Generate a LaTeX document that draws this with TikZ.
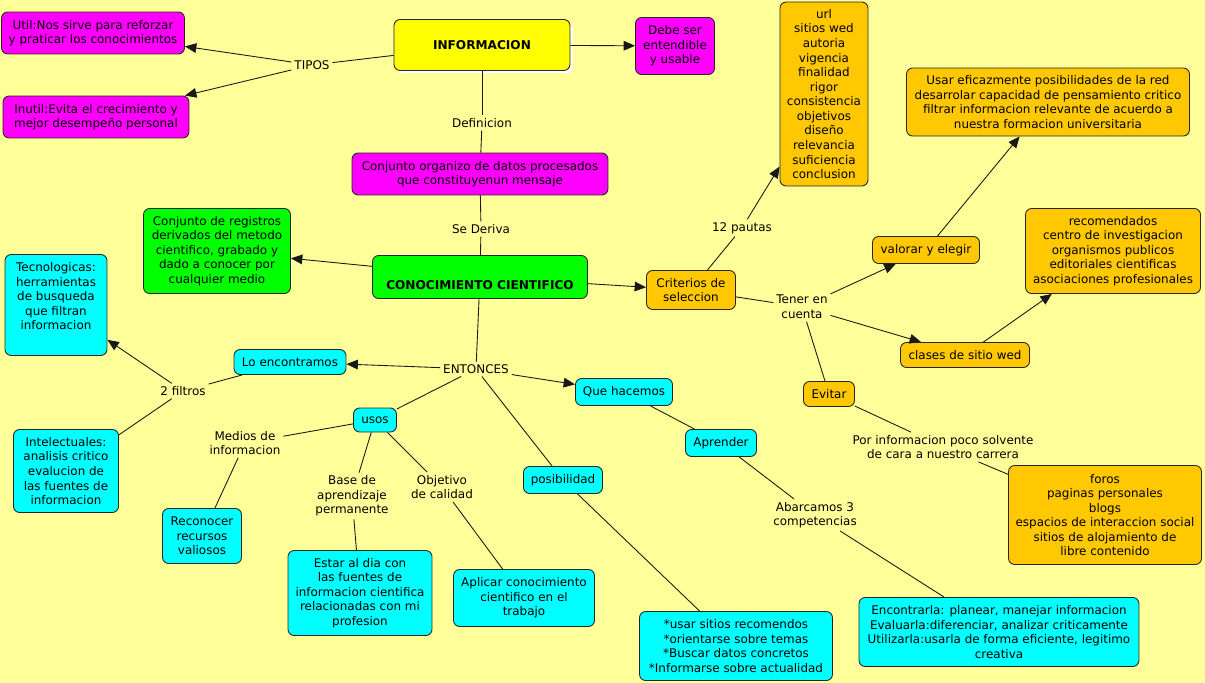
\documentclass[tikz,border=0pt]{standalone}
\usepackage{fontspec}
\setmainfont{DejaVu Sans}
\usetikzlibrary{arrows.meta,shadows}
\definecolor{fondo}{HTML}{FFFF99}
\definecolor{camarillo}{HTML}{FFFF00}
\definecolor{cmagenta}{HTML}{FF00FF}
\definecolor{cverde}{HTML}{00FF00}
\definecolor{ccian}{HTML}{00FFFF}
\definecolor{cnaranja}{HTML}{FFC800}
\begin{document}
\begin{tikzpicture}[x=0.02cm, y=-0.02cm,
        concepto/.style={draw=black!85, line width=0.5pt, rounded corners=3.5pt, align=center, inner sep=1pt, font=\fontsize{6.8}{8.3}\selectfont},
        cajaamarilla/.style={concepto, fill=camarillo, drop shadow={fill=white, opacity=1, shadow xshift=1.5pt, shadow yshift=-1.5pt}},
        cajamagenta/.style={concepto, fill=cmagenta},
        cajaverde/.style={concepto, fill=cverde},
        cajacian/.style={concepto, fill=ccian},
        cajanaranja/.style={concepto, fill=cnaranja},
        enlace/.style={align=center, inner sep=1.5pt, font=\fontsize{6.8}{8.3}\selectfont},
        linea/.style={draw=black!90, line width=0.5pt},
        flecha/.style={linea, -{Triangle[length=6.5pt,width=5.5pt]}}]
        \fill[fondo] (0,0) rectangle (1205,683);
        \useasboundingbox (0,0) rectangle (1205,683);

        \node[cajaamarilla, minimum width=3.52cm, minimum height=1.02cm, font=\fontsize{6.9}{8.3}\selectfont\bfseries] (info) at (482,45) {INFORMACION};
        \node[cajamagenta, minimum width=1.58cm, minimum height=1.14cm] (debe) at (675,46) {Debe ser\\entendible\\y usable};
        \node[cajamagenta, minimum width=3.66cm, minimum height=0.84cm] (util) at (93,33) {Util:Nos sirve para reforzar\\y praticar los conocimientos};
        \node[cajamagenta, minimum width=3.72cm, minimum height=0.84cm] (inutil) at (96,117) {Inutil:Evita el crecimiento y\\mejor desempeño personal};
        \node[cajamagenta, minimum width=5.12cm, minimum height=0.84cm] (organizo) at (480,174) {Conjunto organizo de datos procesados\\que constituyenun mensaje};
        \node[cajanaranja, minimum width=1.76cm, minimum height=3.68cm] (pautasbox) at (824,94) {url\\sitios wed\\autoria\\vigencia\\finalidad\\rigor\\consistencia\\objetivos\\diseño\\relevancia\\suficiencia\\conclusion};
        \node[cajanaranja, minimum width=5.66cm, minimum height=1.36cm] (usar) at (1048,102) {Usar eficazmente posibilidades de la red\\desarrolar capacidad de pensamiento critico\\filtrar informacion relevante de acuerdo a\\nuestra formacion universitaria};
        \node[cajaverde, minimum width=2.94cm, minimum height=1.7cm] (registros) at (217,251) {Conjunto de registros\\derivados del metodo\\cientifico, grabado y\\dado a conocer por\\cualquier medio};
        \node[cajaverde, minimum width=4.3cm, minimum height=0.86cm, text height=14pt, font=\fontsize{6.9}{8.3}\selectfont\bfseries] (conoc) at (480,277) {CONOCIMIENTO CIENTIFICO};
        \node[cajacian, minimum width=2.04cm, minimum height=2.02cm, text depth=10pt] (tecno) at (56,305) {Tecnologicas:\\herramientas\\de busqueda\\que filtran\\informacion};
        \node[cajacian, minimum width=2.24cm, minimum height=0.5cm] (encontramos) at (290,362) {Lo encontramos};
        \node[cajanaranja, minimum width=1.78cm, minimum height=0.78cm] (criterios) at (691,290) {Criterios de\\seleccion};
        \node[cajanaranja, minimum width=2.14cm, minimum height=0.54cm] (valorar) at (926,250) {valorar y elegir};
        \node[cajanaranja, minimum width=3.5cm, minimum height=1.7cm] (recom) at (1113,251) {recomendados\\centro de investigacion\\organismos publicos\\editoriales cientificas\\asociaciones profesionales};
        \node[cajanaranja, minimum width=2.58cm, minimum height=0.5cm] (clases) at (965,355) {clases de sitio wed};
        \node[cajanaranja, minimum width=1.02cm, minimum height=0.5cm] (evitar) at (829,394) {Evitar};
        \node[cajanaranja, minimum width=3.86cm, minimum height=1.98cm] (foros) at (1105,515) {foros\\paginas personales\\blogs\\espacios de interaccion social\\sitios de alojamiento de\\libre contenido};
        \node[cajacian, minimum width=1.94cm, minimum height=0.54cm] (hacemos) at (624,392) {Que hacemos};
        \node[cajacian, minimum width=1.42cm, minimum height=0.54cm] (aprender) at (721,443) {Aprender};
        \node[cajacian, minimum width=0.86cm, minimum height=0.48cm] (usos) at (375,420) {usos};
        \node[cajacian, minimum width=1.58cm, minimum height=0.54cm] (posib) at (563,480) {posibilidad};
        \node[cajacian, minimum width=2.1cm, minimum height=1.66cm] (intelec) at (66,471) {Intelectuales:\\analisis critico\\evalucion de\\las fuentes de\\informacion};
        \node[cajacian, minimum width=1.58cm, minimum height=1.1cm] (reconocer) at (202,536) {Reconocer\\recursos\\valiosos};
        \node[cajacian, minimum width=2.88cm, minimum height=1.7cm] (estar) at (360,593) {Estar al dia con\\las fuentes de\\informacion cientifica\\relacionadas con mi\\profesion};
        \node[cajacian, minimum width=2.82cm, minimum height=1.14cm] (aplicar) at (524,598) {Aplicar conocimiento\\cientifico en el\\trabajo};
        \node[cajacian, minimum width=3.86cm, minimum height=1.38cm] (sitios) at (736,646) {*usar sitios recomendos\\*orientarse sobre temas\\*Buscar datos concretos\\*Informarse sobre actualidad};
        \node[cajacian, minimum width=5.6cm, minimum height=1.38cm] (encontrarla) at (999,632) {Encontrarla: planear, manejar informacion\\Evaluarla:diferenciar, analizar criticamente\\Utilizarla:usarla de forma eficiente, legitimo\\creativa};

        \node[enlace] (tipos) at (312,65) {TIPOS};
        \node[enlace] (defin) at (482,123) {Definicion};
        \node[enlace] (deriva) at (481,229) {Se Deriva};
        \node[enlace] (pautas) at (742,228) {12 pautas};
        \node[enlace] (tener) at (802,307) {Tener en\\cuenta};
        \node[enlace] (porinfo) at (943,447) {Por informacion poco solvente\\de cara a nuestro carrera};
        \node[enlace] (entonces) at (476,369) {ENTONCES};
        \node[enlace] (filtros) at (183,391) {2 filtros};
        \node[enlace] (medios) at (245,443) {Medios de\\informacion};
        \node[enlace] (base) at (352,496) {Base de\\aprendizaje\\permanente};
        \node[enlace] (objetivo) at (442,487) {Objetivo\\de calidad};
        \node[enlace] (abarcamos) at (815,515) {Abarcamos 3\\competencias};

        \draw[linea] (info) -- (tipos);
        \draw[flecha] (tipos) -- (util);
        \draw[flecha] (tipos) -- (inutil);
        \draw[flecha] (info) -- (debe);
        \draw[linea] (info) -- (defin);
        \draw[linea] (defin) -- (organizo);
        \draw[linea] (organizo) -- (deriva);
        \draw[linea] (deriva) -- (conoc);
        \draw[flecha] (conoc) -- (registros);
        \draw[flecha] (conoc) -- (criterios);
        \draw[linea] (criterios) -- (pautas);
        \draw[flecha] (pautas) -- (pautasbox);
        \draw[linea] (criterios) -- (tener);
        \draw[flecha] (tener) -- (valorar);
        \draw[flecha] (tener) -- (clases);
        \draw[linea] (tener) -- (evitar);
        \draw[flecha] (valorar) -- (usar);
        \draw[flecha] (clases) -- (recom);
        \draw[linea] (evitar) -- (porinfo);
        \draw[linea] (porinfo) -- (foros);
        \draw[linea] (conoc) -- (entonces);
        \draw[flecha] (entonces) -- (encontramos);
        \draw[flecha] (entonces) -- (hacemos);
        \draw[linea] (entonces) -- (usos);
        \draw[linea] (entonces) -- (posib);
        \draw[linea] (encontramos) -- (filtros);
        \draw[flecha] (filtros) -- (tecno);
        \draw[linea] (filtros) -- (intelec);
        \draw[linea] (usos) -- (medios);
        \draw[linea] (medios) -- (reconocer);
        \draw[linea] (usos) -- (base);
        \draw[linea] (base) -- (estar);
        \draw[linea] (usos) -- (objetivo);
        \draw[linea] (objetivo) -- (aplicar);
        \draw[linea] (hacemos) -- (aprender);
        \draw[linea] (aprender) -- (abarcamos);
        \draw[linea] (abarcamos) -- (encontrarla);
        \draw[linea] (posib) -- (sitios);
    \end{tikzpicture}
\end{document}
